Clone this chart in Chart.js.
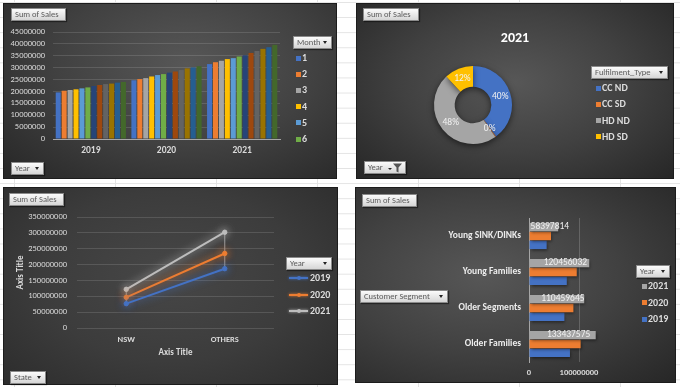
<!DOCTYPE html>
<html>
<head>
<meta charset="utf-8">
<title>Sales dashboard</title>
<script src="https://cdn.jsdelivr.net/npm/chart.js@4.4.1/dist/chart.umd.min.js"></script>
<style>
  body {
    margin: 0;
    width: 680px;
    height: 387px;
    overflow: hidden;
    position: relative;
    background-color: #fff;
    background-image: linear-gradient(#e3e3e3 1px, transparent 1px), linear-gradient(90deg, #e3e3e3 1px, transparent 1px);
    background-size: 101px 15.1px;
    background-position: 14px 2px;
    font-family: Carlito, Lato, sans-serif;
  }
  .panel { position: absolute; box-shadow: inset 0 0 0 1px #1c1c1c; }
  canvas { position: absolute; }
  .btn {
    position: absolute;
    height: 13px;
    box-sizing: border-box;
    border: 1px solid #8a8a8a;
    background: linear-gradient(#fbfbfb, #d6d6d6);
    box-shadow: 1px 1px 1px rgba(0,0,0,.45);
    color: #5a5a5a;
    font-size: 8.5px;
    line-height: 11px;
    padding-left: 3px;
    white-space: nowrap;
  }
  .btn .arr {
    position: absolute; right: 4px; top: 4px;
    border-left: 2.5px solid transparent; border-right: 2.5px solid transparent;
    border-top: 3px solid #222;
  }
  .btn svg { position: absolute; right: 2px; top: 1px; }
  .lg { position: absolute; color: #dcdcdc; font-size: 10px; font-weight: bold; line-height: 12px; white-space: nowrap; }
  .sw { position: absolute; width: 5px; height: 5px; }
  .title { position: absolute; color: #fff; font-weight: bold; font-size: 14px; text-align: center; }
</style>
</head>
<body>
<div class="panel" id="p1" style="left:3px;top:3px;width:334px;height:176px;background:radial-gradient(ellipse at 55% 35%, #575757 0%, #414141 50%, #262626 100%)"></div>
<div class="panel" id="p2" style="left:356px;top:3px;width:318px;height:176px;background:radial-gradient(ellipse at 50% 45%, #575757 0%, #414141 50%, #262626 100%)"></div>
<div class="panel" id="p3" style="left:3px;top:187px;width:335px;height:198px;background:radial-gradient(ellipse at 50% 45%, #474747 0%, #3c3c3c 55%, #2c2c2c 100%)"></div>
<div class="panel" id="p4" style="left:355px;top:187px;width:321px;height:196px;background:radial-gradient(ellipse at 40% 45%, #575757 0%, #414141 50%, #262626 100%)"></div>
<canvas id="c1" width="334" height="176" style="left:3px;top:3px"></canvas>
<canvas id="c2" width="318" height="176" style="left:356px;top:3px"></canvas>
<canvas id="c3" width="335" height="198" style="left:3px;top:187px"></canvas>
<canvas id="c4" width="321" height="196" style="left:355px;top:187px"></canvas>
<div class="title" style="left:475px;top:29px;width:80px">2021</div>
<script>
// sales by month, one array per year
const years = ['2019', '2020', '2021'];
const months = ['1', '2', '3', '4', '5', '6', '7', '8', '9', '10', '11', '12'];
const monthColors = ['#4472C4', '#ED7D31', '#A5A5A5', '#FFC000', '#5B9BD5', '#70AD47',
                     '#264478', '#9E480E', '#636363', '#997300', '#255E91', '#43682B'];
const monthSales2019 = [19600000, 20300000, 20600000, 20900000, 21300000, 21700000, 22300000, 22700000, 23100000, 23300000, 23700000, 24000000];
const monthSales2020 = [24700000, 25200000, 25600000, 26300000, 26900000, 27300000, 27900000, 28400000, 29000000, 29700000, 30100000, 30600000];
const monthSales2021 = [31500000, 32300000, 32900000, 33600000, 34000000, 34700000, 35200000, 36200000, 37000000, 37900000, 38600000, 39600000];

// fulfilment type share, 2021
const fulfilmentTypes = ['CC ND', 'CC SD', 'HD ND', 'HD SD'];
const fulfilmentShare2021 = [40, 0.3, 47.7, 12];
const fulfilmentColors = ['#4472C4', '#ED7D31', '#A5A5A5', '#FFC000'];

// sales by state
const states = ['NSW', 'OTHERS'];
const stateSales2019 = [76700000, 187000000];
const stateSales2020 = [96600000, 235000000];
const stateSales2021 = [122000000, 302000000];

// sales by customer segment
const segments = ['Young SINK/DINKs', 'Young Families', 'Older Segments', 'Older Families'];
const segmentSales2021 = [58397814, 120456032, 110459645, 133437575];
const segmentSales2020 = [44000000, 95500000, 88800000, 103300000];
const segmentSales2019 = [35300000, 75600000, 70800000, 81900000];
const segmentTicks = [0, 100000000];

const yearColors = ['#4472C4', '#ED7D31', '#A5A5A5'];
const lineColors = ['#4472C4', '#ED7D31', '#BDBDBD'];

Chart.defaults.font.family = 'Carlito, Lato, sans-serif';
Chart.defaults.font.size = 8.5;
Chart.defaults.color = '#d9d9d9';
Chart.defaults.animation = false;
Chart.defaults.responsive = false;
Chart.defaults.plugins.legend.display = false;
Chart.defaults.plugins.tooltip.enabled = false;

const plain = v => String(v);
const faintGrid = 'rgba(255,255,255,0.13)';

// 1. monthly bars
new Chart(document.getElementById('c1'), {
  type: 'bar',
  data: {
    labels: years,
    datasets: months.map((m, i) => ({
      label: m,
      data: [monthSales2019[i], monthSales2020[i], monthSales2021[i]],
      backgroundColor: monthColors[i],
      categoryPercentage: 0.94,
      barPercentage: 0.85
    }))
  },
  options: {
    layout: { padding: { left: 0, top: 29, right: 57, bottom: 20 } },
    scales: {
      x: {
        grid: { display: false, drawTicks: false },
        border: { color: '#a6a6a6' },
        ticks: { padding: 6, font: { size: 9.5, weight: 'bold' } },
        afterFit(s) { s.height = 20; }
      },
      y: {
        min: 0, max: 45000000,
        ticks: { stepSize: 5000000, padding: 8, autoSkip: false, callback: plain },
        grid: { color: faintGrid, drawTicks: false },
        border: { display: false },
        afterFit(s) { s.width = 50; }
      }
    }
  }
});

// 2. doughnut with percent labels
const donutLabels = {
  id: 'donutLabels',
  beforeDatasetsDraw(chart) {
    const ctx = chart.ctx;
    ctx.save();
    ctx.shadowColor = 'rgba(0,0,0,0.55)';
    ctx.shadowBlur = 6;
    ctx.shadowOffsetY = 2;
  },
  afterDatasetsDraw(chart) {
    const ctx = chart.ctx;
    ctx.restore();
    const values = chart.data.datasets[0].data;
    const total = values.reduce((a, b) => a + b, 0);
    ctx.save();
    ctx.font = '9.5px Carlito, Lato, sans-serif';
    ctx.fillStyle = '#f2f2f2';
    ctx.textAlign = 'center';
    ctx.textBaseline = 'middle';
    chart.getDatasetMeta(0).data.forEach((arc, i) => {
      const p = arc.tooltipPosition();
      ctx.fillText(Math.round(values[i] / total * 100) + '%', p.x, p.y);
    });
    ctx.restore();
  }
};
new Chart(document.getElementById('c2'), {
  type: 'doughnut',
  data: {
    labels: fulfilmentTypes,
    datasets: [{ data: fulfilmentShare2021, backgroundColor: fulfilmentColors, borderWidth: 0 }]
  },
  options: {
    cutout: '47%',
    layout: { padding: { left: 78, top: 63, right: 162, bottom: 35 } }
  },
  plugins: [donutLabels]
});

// 3. lines by state, with glow and high-low lines
const glow = {
  id: 'glow',
  beforeDatasetsDraw(chart) {
    const ctx = chart.ctx;
    chart.data.labels.forEach((l, i) => {
      const ys = chart.data.datasets.map((d, k) => chart.getDatasetMeta(k).data[i].y);
      const x = chart.getDatasetMeta(0).data[i].x;
      ctx.save();
      ctx.strokeStyle = '#9a9a9a';
      ctx.lineWidth = 1;
      ctx.beginPath();
      ctx.moveTo(x, Math.min(...ys));
      ctx.lineTo(x, Math.max(...ys));
      ctx.stroke();
      ctx.restore();
    });
  },
  beforeDatasetDraw(chart, args) {
    const ctx = chart.ctx;
    ctx.save();
    ctx.shadowColor = chart.data.datasets[args.index].borderColor;
    ctx.shadowBlur = 8;
  },
  afterDatasetDraw(chart) {
    chart.ctx.restore();
  }
};
new Chart(document.getElementById('c3'), {
  type: 'line',
  data: {
    labels: states,
    datasets: [stateSales2019, stateSales2020, stateSales2021].map((d, i) => ({
      label: years[i],
      data: d,
      borderColor: lineColors[i],
      backgroundColor: lineColors[i],
      borderWidth: 2,
      pointRadius: 2.2,
      pointBorderWidth: 1,
      pointBorderColor: lineColors[i],
      pointBackgroundColor: lineColors[i]
    }))
  },
  options: {
    layout: { padding: { left: 8, top: 30, right: 64, bottom: 27 } },
    scales: {
      x: {
        offset: true,
        grid: { display: false, drawTicks: false },
        border: { display: false },
        ticks: { padding: 7, font: { weight: 'bold' } },
        title: { display: true, text: 'Axis Title', font: { size: 9, weight: 'bold' }, padding: { top: 0, bottom: 0 } },
        afterFit(s) { s.height = 30; }
      },
      y: {
        min: 0, max: 350000000,
        ticks: { stepSize: 50000000, padding: 10, autoSkip: false, callback: plain },
        grid: { color: faintGrid, drawTicks: false },
        border: { display: false },
        title: { display: true, text: 'Axis Title', font: { size: 9, weight: 'bold' }, padding: { top: 4, bottom: 0 } },
        afterFit(s) { s.width = 66; }
      }
    }
  },
  plugins: [glow]
});

// 4. horizontal bars by segment, labels on the 2021 bars
const barLabels = {
  id: 'barLabels',
  beforeDatasetsDraw(chart) {
    const ctx = chart.ctx;
    ctx.save();
    ctx.shadowColor = 'rgba(0,0,0,0.5)';
    ctx.shadowBlur = 3;
    ctx.shadowOffsetX = 1;
    ctx.shadowOffsetY = 2;
  },
  afterDatasetsDraw(chart) {
    const ctx = chart.ctx;
    ctx.restore();
    ctx.save();
    ctx.font = '9.5px Carlito, Lato, sans-serif';
    ctx.fillStyle = '#f0f0f0';
    ctx.textAlign = 'center';
    ctx.textBaseline = 'middle';
    const values = chart.data.datasets[0].data;
    chart.getDatasetMeta(0).data.forEach((bar, i) => {
      ctx.fillText(String(values[i]), (bar.x + bar.base) / 2 + 6, bar.y);
    });
    ctx.restore();
  }
};
new Chart(document.getElementById('c4'), {
  type: 'bar',
  data: {
    labels: segments,
    datasets: [
      { label: '2021', data: segmentSales2021, backgroundColor: yearColors[2] },
      { label: '2020', data: segmentSales2020, backgroundColor: yearColors[1] },
      { label: '2019', data: segmentSales2019, backgroundColor: yearColors[0] }
    ]
  },
  options: {
    indexAxis: 'y',
    datasets: { bar: { categoryPercentage: 0.74, barPercentage: 0.95 } },
    layout: { padding: { left: 0, top: 31, right: 72, bottom: 1 } },
    scales: {
      x: {
        min: 0, max: 150000000,
        afterBuildTicks(s) { s.ticks = segmentTicks.map(v => ({ value: v })); },
        ticks: { padding: 6, font: { weight: 'bold' }, callback: plain },
        grid: { color: c => c.tick && c.tick.value === 0 ? 'rgba(0,0,0,0)' : 'rgba(255,255,255,0.18)', drawTicks: false },
        border: { display: false },
        afterFit(s) { s.height = 20; }
      },
      y: {
        grid: { display: false, drawTicks: false },
        border: { color: '#a6a6a6' },
        ticks: { padding: 8, color: '#ececec', font: { size: 9.5, weight: 'bold' } },
        afterFit(s) { s.width = 174; }
      }
    }
  },
  plugins: [barLabels]
});

// pivot field buttons and legends
const fieldButtons = [
  { text: 'Sum of Sales', x: 11, y: 8, w: 55 },
  { text: 'Year', x: 11, y: 162, w: 33, arrow: true },
  { text: 'Month', x: 293, y: 36, w: 39, arrow: true },
  { text: 'Sum of Sales', x: 363, y: 8, w: 56 },
  { text: 'Year', x: 364, y: 161, w: 42, filter: true },
  { text: 'Fulfilment_Type', x: 591, y: 66, w: 77, arrow: true },
  { text: 'Sum of Sales', x: 9, y: 193, w: 55 },
  { text: 'State', x: 10, y: 371, w: 36, arrow: true },
  { text: 'Year', x: 286, y: 257, w: 46, arrow: true },
  { text: 'Sum of Sales', x: 362, y: 194, w: 55 },
  { text: 'Customer Segment', x: 360, y: 290, w: 88, arrow: true },
  { text: 'Year', x: 636, y: 265, w: 34, arrow: true }
];

function add(cls, style, text) {
  const d = document.createElement('div');
  d.className = cls;
  Object.assign(d.style, style);
  if (text) d.textContent = text;
  document.body.appendChild(d);
  return d;
}

fieldButtons.forEach(b => {
  const d = add('btn', { left: b.x + 'px', top: b.y + 'px', width: b.w + 'px' }, b.text);
  if (b.arrow) d.appendChild(Object.assign(document.createElement('span'), { className: 'arr' }));
  if (b.filter) {
    d.insertAdjacentHTML('beforeend',
      '<svg width="16" height="10"><path d="M1 5H5L3 7Z" fill="#222"/><path d="M6 0.5H15L11.5 4.5V9.5L9.5 8.5V4.5Z" fill="#555"/></svg>');
  }
});

function legend(labels, colors, x, y0, step, asLine) {
  labels.forEach((t, i) => {
    const y = y0 + i * step;
    if (asLine) {
      add('sw', { left: x + 'px', top: (y - 1) + 'px', width: '19px', height: '2px', background: colors[i], boxShadow: '0 0 3px ' + colors[i] });
      add('sw', { left: (x + 8) + 'px', top: (y - 2) + 'px', width: '4px', height: '4px', borderRadius: '50%', background: colors[i] });
      add('lg', { left: (x + 21) + 'px', top: (y - 6) + 'px' }, t);
    } else {
      add('sw', { left: x + 'px', top: (y - 2.5) + 'px', background: colors[i] });
      add('lg', { left: (x + 6) + 'px', top: (y - 6) + 'px' }, t);
    }
  });
}

legend(months.slice(0, 6), monthColors, 296, 58, 16.2);
legend(fulfilmentTypes, fulfilmentColors, 596, 88, 16.3);
legend(years, lineColors, 289, 278, 16.5, true);
legend(years.slice().reverse(), yearColors.slice().reverse(), 642, 286, 16.5);
</script>
</body>
</html>
